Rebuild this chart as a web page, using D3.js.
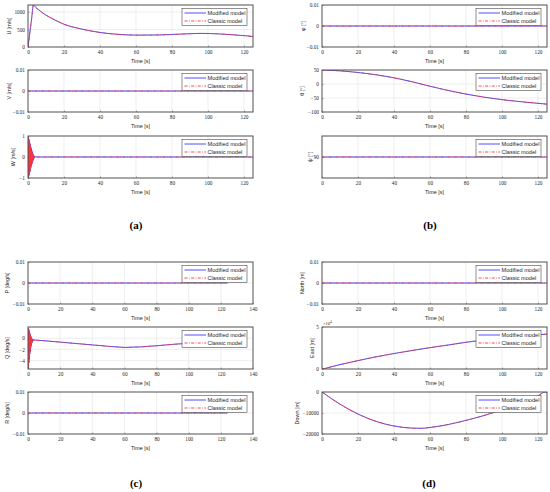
<!DOCTYPE html>
<html><head><meta charset="utf-8">
<script src="https://cdn.jsdelivr.net/npm/d3@7"></script>
<style>body{margin:0;background:#fff} svg{display:block}</style></head>
<body><svg id="c" width="550" height="492"></svg>
<script>
// ---------- data ----------
const seriesNames = ["Modified model", "Classic model"];
const panelLabels = ["(a)", "(b)", "(c)", "(d)"];
const xTicks125 = [0, 20, 40, 60, 80, 100, 120];
const xTicks140 = [0, 20, 40, 60, 80, 100, 120, 140];

const timeU = [0, 1, 2, 3, 4, 5, 6, 8, 10, 12, 15, 20, 25, 30, 40, 50, 60, 70, 80, 90, 95, 100, 110, 120, 125];
const uVals = [0, 400, 800, 1200, 1150, 1100, 1060, 980, 910, 850, 770, 650, 570, 510, 415, 362, 340, 342, 358, 380, 388, 386, 362, 325, 300];

const oscTime = [0,0.1,0.2,0.3,0.4,0.5,0.6,0.7,0.8,0.9,1.0,1.1,1.2,1.3,1.4,1.5,1.6,1.7,1.8,1.9,2.0,2.1,2.2,2.3,2.4,2.5,2.6,2.7,2.8,2.9,3.0,3.1,3.2,3.3,3.4,3.5];
const wTime = oscTime.concat([5, 125]);
const wVals = [0,0.95,-0.98,0.9,-0.92,0.84,-0.86,0.77,-0.79,0.7,-0.72,0.63,-0.64,0.56,-0.57,0.49,-0.5,0.42,-0.43,0.36,-0.36,0.3,-0.3,0.24,-0.25,0.19,-0.2,0.15,-0.15,0.11,-0.11,0.08,-0.08,0.05,-0.04,0.02, 0, 0];

const constTime = [0, 125];
const zeroVals = [0, 0];
const psiVals = [90, 90];
const constTimeC = [0, 124];

const timeTheta = [0, 10, 20, 30, 40, 50, 60, 70, 80, 90, 100, 110, 120, 125];
const thetaVals = [50, 47, 41, 33, 22, 8, -8, -23, -36, -47, -56, -63, -69, -72];

const qTime = oscTime.concat([5, 10, 20, 30, 40, 50, 60, 70, 80, 90, 100, 110, 124]);
const qVals = [0,-5.4,1.8,-5,1.6,-4.4,1.4,-3.8,1.2,-3.3,1.0,-2.8,0.8,-2.4,0.6,-2.0,0.4,-1.7,0.3,-1.4,0.2,-1.1,0.05,-0.9,-0.05,-0.75,-0.15,-0.6,-0.2,-0.5,-0.25,-0.42,-0.28,-0.36,-0.3,-0.32,
  -0.35, -0.45, -0.7, -0.95, -1.2, -1.45, -1.65, -1.55, -1.35, -1.1, -0.9, -0.75, -0.6];

const timeEast = [0, 2, 5, 10, 20, 30, 40, 50, 60, 70, 80, 90, 100, 110, 120, 125];
const eastVals = [0, 800, 2500, 5200, 10000, 14500, 18400, 22000, 25400, 28500, 31800, 34500, 37000, 39000, 40800, 41500];

const timeDown = [0, 5, 10, 20, 30, 40, 50, 55, 60, 70, 80, 90, 100, 110, 120, 124, 125];
const downVals = [0, -3000, -5800, -10500, -14000, -16200, -17200, -17300, -16900, -15500, -13500, -11200, -8400, -5200, -1800, 0, 0];

const smallTicks = [-0.01, 0, 0.01];
const smallTickLabels = ["\u22120.01", "0", "0.01"];

// ---------- layout ----------
const PW = 225, PH = 42;
const colLeft = [28, 322];
const rowTop = [5, 70, 136, 262, 327, 392];

const plots = [
  {col:0,row:0,xMax:125,xt:xTicks125,yd:[0,1200],yt:[0,500,1000],yl:["0","500","1000"],ylab:"U [m/s]",off:19,t:timeU,v:uVals},
  {col:0,row:1,xMax:125,xt:xTicks125,yd:[-0.01,0.01],yt:smallTicks,yl:smallTickLabels,ylab:"V [m/s]",off:19,t:constTime,v:zeroVals},
  {col:0,row:2,xMax:125,xt:xTicks125,yd:[-1,1],yt:[-1,0,1],yl:["\u22121","0","1"],ylab:"W [m/s]",off:15,t:wTime,v:wVals,osc:true},
  {col:1,row:0,xMax:125,xt:xTicks125,yd:[-0.01,0.01],yt:smallTicks,yl:smallTickLabels,ylab:"\u03c6 [\u00b0]",off:19,t:constTime,v:zeroVals},
  {col:1,row:1,xMax:125,xt:xTicks125,yd:[-100,50],yt:[-100,-50,0,50],yl:["\u2212100","\u221250","0","50"],ylab:"\u03b8 [\u00b0]",off:20,t:timeTheta,v:thetaVals},
  {col:1,row:2,xMax:125,xt:xTicks125,yd:[89,91],yt:[90],yl:["90"],ylab:"\u03c8 [\u00b0]",off:12,t:constTime,v:psiVals},
  {col:0,row:3,xMax:140,xt:xTicks140,yd:[-0.01,0.01],yt:smallTicks,yl:smallTickLabels,ylab:"P [deg/s]",off:21,t:constTimeC,v:zeroVals},
  {col:0,row:4,xMax:140,xt:xTicks140,yd:[-5.5,2],yt:[-4,-2,0],yl:["\u22124","\u22122","0"],ylab:"Q [deg/s]",off:21,t:qTime,v:qVals,osc:true},
  {col:0,row:5,xMax:140,xt:xTicks140,yd:[-0.01,0.01],yt:smallTicks,yl:smallTickLabels,ylab:"R [deg/s]",off:21,t:constTimeC,v:zeroVals},
  {col:1,row:3,xMax:125,xt:xTicks125,yd:[-0.01,0.01],yt:smallTicks,yl:smallTickLabels,ylab:"North [m]",off:20,t:constTime,v:zeroVals},
  {col:1,row:4,xMax:125,xt:xTicks125,yd:[0,50000],yt:[0,50000],yl:["0","5"],ylab:"East [m]",off:10,t:timeEast,v:eastVals,exp:true},
  {col:1,row:5,xMax:125,xt:xTicks125,yd:[-20000,0],yt:[-20000,-10000,0],yl:["\u221220000","\u221210000","0"],ylab:"Down [m]",off:25,t:timeDown,v:downVals}
];

const TXT = "#262626", GRID = "#e3e3e3", BOX = "#505050";
const BLUE = "#3a3aff", RED = "#ff3535";
const SERIF = "'Liberation Serif','DejaVu Serif',serif";
const SANS = "'Liberation Sans',Arial,sans-serif";

const svg = d3.select("#c");

plots.forEach((p, i) => {
  const g = svg.append("g").attr("transform", `translate(${colLeft[p.col]},${rowTop[p.row]})`);
  const x = d3.scaleLinear().domain([0, p.xMax]).range([0, PW]);
  const y = d3.scaleLinear().domain(p.yd).range([PH, 0]);

  g.append("rect").attr("width", PW).attr("height", PH).attr("fill", "#fff");
  // grid
  g.selectAll(".gx").data(p.xt.filter(d => d > 0 && d < p.xMax)).join("line")
    .attr("x1", d => x(d)).attr("x2", d => x(d)).attr("y1", 0).attr("y2", PH)
    .attr("stroke", GRID).attr("stroke-width", 0.6);
  g.selectAll(".gy").data(p.yt.filter(d => d > p.yd[0] && d < p.yd[1])).join("line")
    .attr("y1", d => y(d)).attr("y2", d => y(d)).attr("x1", 0).attr("x2", PW)
    .attr("stroke", GRID).attr("stroke-width", 0.6);

  const cid = "clip" + i;
  g.append("clipPath").attr("id", cid).append("rect").attr("width", PW).attr("height", PH);
  const pts = p.t.map((t, k) => [t, p.v[k]]);
  const line = d3.line().x(d => x(d[0])).y(d => y(d[1]))
    .curve(p.osc ? d3.curveLinear : d3.curveMonotoneX);
  const lg = g.append("g").attr("clip-path", `url(#${cid})`);
  lg.append("path").attr("d", line(pts)).attr("fill", "none").attr("stroke", BLUE).attr("stroke-width", 0.9);
  lg.append("path").attr("d", line(pts)).attr("fill", "none").attr("stroke", RED).attr("stroke-width", 0.8)
    .attr("stroke-dasharray", "3,1.4,0.8,1.4");

  // axes
  const ax = g.append("g").attr("transform", `translate(0,${PH})`)
    .call(d3.axisBottom(x).tickValues(p.xt).tickSizeInner(-1.5).tickSizeOuter(0).tickPadding(3));
  const ay = g.append("g")
    .call(d3.axisLeft(y).tickValues(p.yt).tickFormat((d, k) => p.yl[k]).tickSizeInner(-1.5).tickSizeOuter(0).tickPadding(3));
  [ax, ay].forEach(a => {
    a.select(".domain").remove();
    a.selectAll(".tick line").attr("stroke", BOX).attr("stroke-width", 0.5);
    a.selectAll("text").attr("fill", TXT).style("font-family", SERIF).style("font-size", "5.3px");
  });

  // box
  g.append("rect").attr("width", PW).attr("height", PH).attr("fill", "none")
    .attr("stroke", BOX).attr("stroke-width", 1);

  // labels
  g.append("text").attr("x", PW / 2).attr("y", PH + 14).attr("dy", "0.35em").attr("text-anchor", "middle")
    .attr("fill", TXT).style("font-family", SANS).style("font-size", "5.4px").text("Time [s]");
  g.append("text").attr("transform", `translate(${-p.off},${PH / 2}) rotate(-90)`).attr("dy", "0.35em")
    .attr("text-anchor", "middle").attr("fill", TXT).style("font-family", SANS).style("font-size", "5.4px").text(p.ylab);

  if (p.exp) {
    const e = g.append("text").attr("x", 1).attr("y", -2.5).attr("fill", TXT)
      .style("font-family", SERIF).style("font-size", "4.5px").text("\u00d710");
    e.append("tspan").attr("dy", -1.6).style("font-size", "3.4px").text("4");
  }

  // legend
  const LW = 65, LH = 17;
  const leg = g.append("g").attr("transform", `translate(${PW - 6 - LW},3.5)`);
  leg.append("rect").attr("width", LW).attr("height", LH).attr("fill", "#fff").attr("stroke", "#262626").attr("stroke-width", 0.5);
  seriesNames.forEach((nm, k) => {
    const yy = 4.5 + k * 8;
    leg.append("line").attr("x1", 2.5).attr("x2", 24).attr("y1", yy).attr("y2", yy)
      .attr("stroke", k === 0 ? BLUE : RED).attr("stroke-width", 0.9)
      .attr("stroke-dasharray", k === 0 ? null : "3,1.4,0.8,1.4");
    leg.append("text").attr("x", 25.5).attr("y", yy).attr("dy", "0.35em").attr("fill", TXT)
      .style("font-family", SANS).style("font-size", "5.6px").text(nm);
  });
});

const labPos = [[136, 225], [430, 225], [136, 483], [429, 483]];
svg.selectAll(".plab").data(panelLabels).join("text")
  .attr("x", (d, k) => labPos[k][0]).attr("y", (d, k) => labPos[k][1]).attr("dy", "0.35em")
  .attr("text-anchor", "middle").attr("fill", "#000")
  .style("font-family", SERIF).style("font-weight", "bold").style("font-size", "11px").text(d => d);
</script>
</body></html>
